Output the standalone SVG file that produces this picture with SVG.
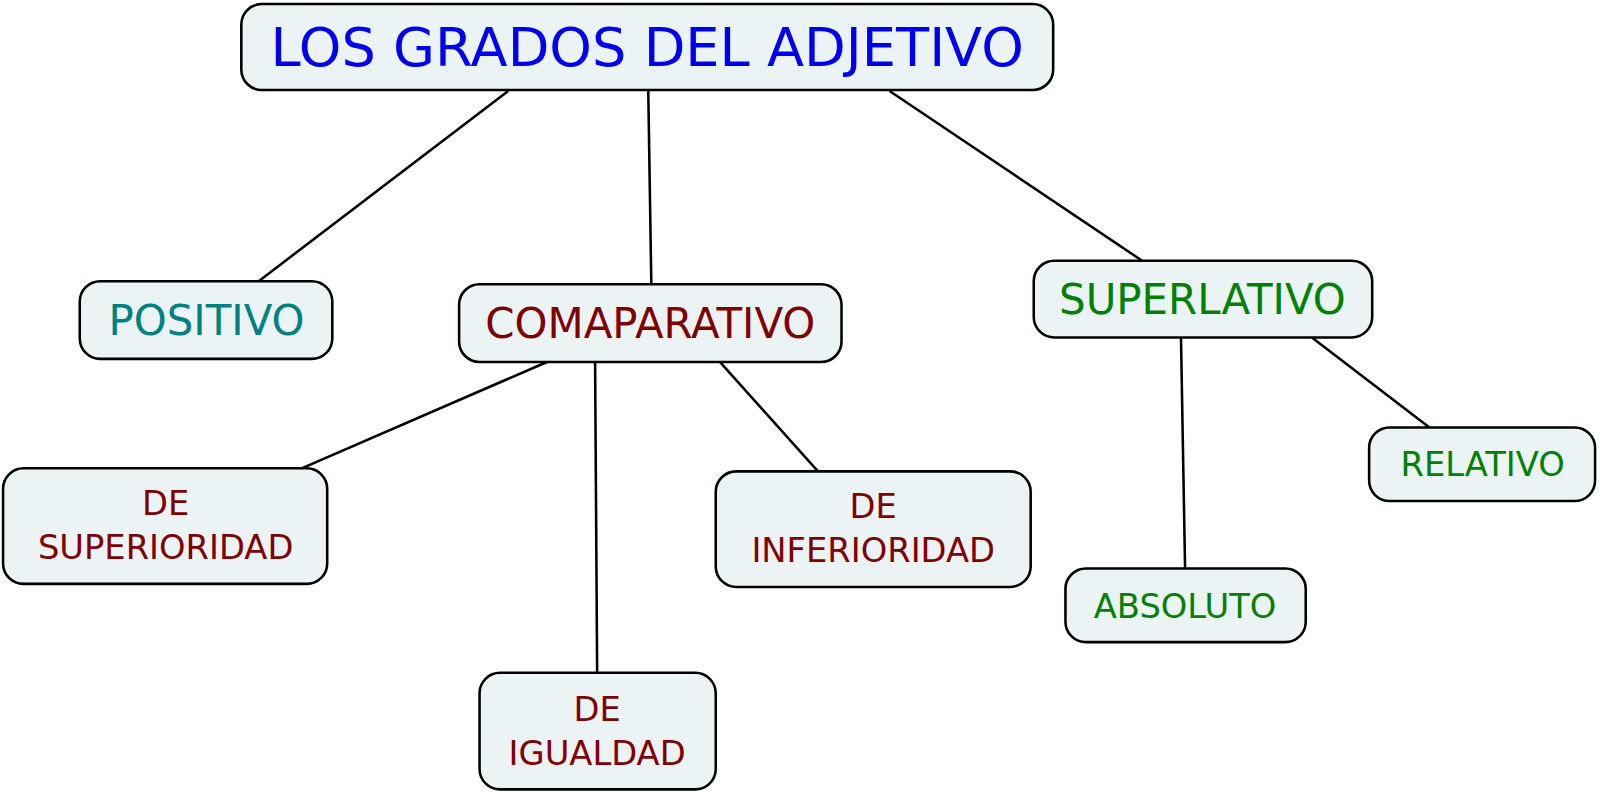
<svg xmlns="http://www.w3.org/2000/svg" width="1600" height="795" viewBox="0 0 1600 795">
<style>
rect{fill:#ebf3f5;stroke:#000;stroke-width:2.5}
text{font-family:"DejaVu Sans",Verdana,sans-serif;text-anchor:middle}
.r{fill:#800000;font-size:33px}
.g{fill:#008000}
line{stroke:#000;stroke-width:2.5}
</style>
<rect width="1600" height="795" style="fill:#fff;stroke:none"/>
<g transform="scale(1.0225)">
<g id="connectors">
<line x1="497" y1="89" x2="253" y2="275"/>
<line x1="634" y1="89" x2="637" y2="278"/>
<line x1="870" y1="89" x2="1117" y2="255"/>
<line x1="535" y1="354" x2="295" y2="458"/>
<line x1="582" y1="354" x2="584" y2="658"/>
<line x1="704" y1="354" x2="800" y2="461"/>
<line x1="1155" y1="330" x2="1159" y2="556"/>
<line x1="1283" y1="330" x2="1398" y2="418"/>
</g>
<g id="title"><rect x="236" y="4" width="794" height="84" rx="20"/><text x="633" y="65" style="fill:#0000ee;font-size:53px">LOS GRADOS DEL ADJETIVO</text></g>
<g id="positivo"><rect x="78" y="275" width="247" height="76" rx="20"/><text x="202" y="328" style="fill:#008080;font-size:41px">POSITIVO</text></g>
<g id="comparativo"><rect x="449" y="278" width="374" height="76" rx="20"/><text x="636" y="331" style="fill:#800000;font-size:41px">COMAPARATIVO</text></g>
<g id="superlativo"><rect x="1011" y="255" width="331" height="75" rx="20"/><text x="1176" y="307" class="g" style="font-size:41px">SUPERLATIVO</text></g>
<g id="superioridad"><rect x="3" y="458" width="317" height="113" rx="20"/><text x="162" y="504" class="r">DE</text><text x="162" y="547" class="r">SUPERIORIDAD</text></g>
<g id="igualdad"><rect x="469" y="658" width="231" height="114" rx="20"/><text x="584" y="705" class="r">DE</text><text x="584" y="748" class="r">IGUALDAD</text></g>
<g id="inferioridad"><rect x="700" y="461" width="308" height="113" rx="20"/><text x="854" y="507" class="r">DE</text><text x="854" y="550" class="r">INFERIORIDAD</text></g>
<g id="absoluto"><rect x="1042" y="556" width="235" height="72" rx="20"/><text x="1159" y="604" class="g" style="font-size:33px">ABSOLUTO</text></g>
<g id="relativo"><rect x="1339" y="418" width="221" height="72" rx="20"/><text x="1450" y="466" class="g" style="font-size:33px">RELATIVO</text></g>
</g>
</svg>
